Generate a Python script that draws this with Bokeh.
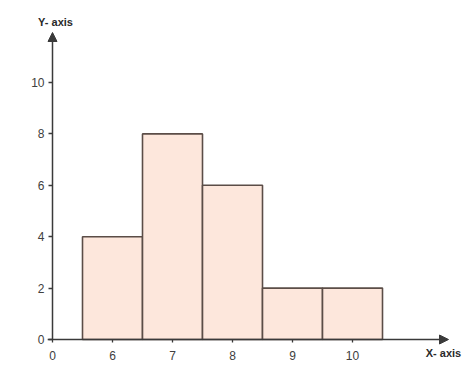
from bokeh.plotting import figure
from bokeh.models import Arrow, NormalHead, Label, FixedTicker, Range1d
from bokeh.embed import file_html
from bokeh.resources import INLINE

# data
categories = [6, 7, 8, 9, 10]
counts = [4, 8, 6, 2, 2]
y_ticks = [0, 2, 4, 6, 8, 10]
x_ticks = [5, 6, 7, 8, 9, 10]
x_tick_labels = {5: "0", 6: "6", 7: "7", 8: "8", 9: "9", 10: "10"}

AX = "#3a3a3a"
FONT = "Liberation Sans"
PXU_X = 60.0   # pixels per x unit
PXU_Y = 25.7   # pixels per y unit
X0, Y0 = 52, 339  # pixel position of the origin

p = figure(width=474, height=373, output_backend="svg", toolbar_location=None,
           x_range=Range1d(5 - X0 / PXU_X, 5 + (474 - X0) / PXU_X),
           y_range=Range1d(-(373 - Y0) / PXU_Y, Y0 / PXU_Y),
           min_border=0, min_border_left=0, min_border_right=0,
           min_border_top=0, min_border_bottom=0)
p.outline_line_color = None
p.xgrid.visible = False
p.ygrid.visible = False

p.quad(left=[c - 0.5 for c in categories], right=[c + 0.5 for c in categories],
       bottom=0, top=counts, fill_color="#fde7dc", line_color="#5b4d47", line_width=1.6)

for ax in (p.xaxis[0], p.yaxis[0]):
    ax.axis_line_color = None
    ax.major_tick_line_color = AX
    ax.major_tick_line_width = 1.3
    ax.minor_tick_line_color = None
    ax.major_tick_in = 0
    ax.major_label_text_font = FONT
    ax.major_label_text_font_size = "12px"
    ax.major_label_text_color = "#404040"

p.xaxis.fixed_location = 0
p.yaxis.fixed_location = 5
p.xaxis.ticker = FixedTicker(ticks=x_ticks)
p.xaxis.major_label_overrides = x_tick_labels
p.xaxis.major_tick_out = 3
p.xaxis.major_label_standoff = 8
p.yaxis.ticker = FixedTicker(ticks=y_ticks)
p.yaxis.major_tick_out = 4
p.yaxis.major_label_standoff = 4

p.add_layout(Arrow(end=NormalHead(size=9, fill_color=AX, line_color=AX),
                   x_start=4.92, y_start=0, x_end=5 + (448 - X0) / PXU_X, y_end=0,
                   line_color=AX, line_width=1.5))
p.add_layout(Arrow(end=NormalHead(size=9, fill_color=AX, line_color=AX),
                   x_start=5, y_start=0, x_end=5, y_end=(Y0 - 32) / PXU_Y,
                   line_color=AX, line_width=1.5))

p.add_layout(Label(x=5.05, y=(Y0 - 21) / PXU_Y, text="Y- axis",
                   text_font=FONT, text_font_style="bold", text_font_size="11px",
                   text_color="#2a2a2a", text_align="center", text_baseline="middle"))
p.add_layout(Label(x=5 + (443 - X0) / PXU_X, y=(Y0 - 352) / PXU_Y, text="X- axis",
                   text_font=FONT, text_font_style="bold", text_font_size="11px",
                   text_color="#2a2a2a", text_align="center", text_baseline="middle"))

open("out.html", "w").write(file_html(p, INLINE))
